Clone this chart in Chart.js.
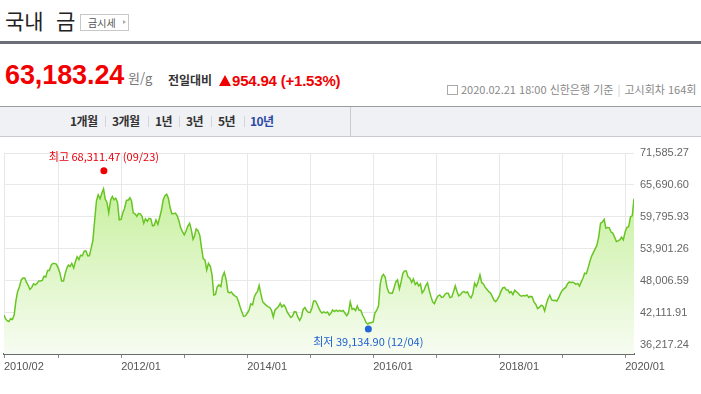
<!DOCTYPE html>
<html lang="ko">
<head>
<meta charset="utf-8">
<script src="https://cdn.jsdelivr.net/npm/chart.js@4.4.1/dist/chart.umd.min.js"></script>
<style>
  body { margin: 0; width: 701px; height: 394px; overflow: hidden; background: #fff; position: relative;
         font-family: 'Noto Sans CJK KR', 'Liberation Sans', sans-serif; }
  .abs { position: absolute; white-space: nowrap; }
  .title { font-size: 21px; line-height: 24px; color: #222; top: 8px; }
  .more { left: 80px; top: 14px; width: 49px; height: 17px; border: 1px solid #c8c8c8; box-sizing: border-box; }
  .more span { position: absolute; left: 7px; top: 2px; font-size: 10px; line-height: 12px; color: #555; }
  .more i { position: absolute; left: 42px; top: 5px; width: 0; height: 0; border-left: 3px solid #aaa;
            border-top: 2.5px solid transparent; border-bottom: 2.5px solid transparent; }
  .rule { left: 0; top: 41px; width: 701px; height: 3px; background: #6b6e75; }
  .price { left: 5px; top: 62px; font: bold 27px/27px 'Liberation Sans', Arial, sans-serif; color: #f20000; letter-spacing: -0.1px; }
  .unit { left: 128px; top: 70px; font-size: 13px; line-height: 16px; color: #777; }
  .cmp { left: 168px; top: 72px; font-size: 12px; line-height: 16px; font-weight: bold; color: #333; }
  .tri { left: 219px; top: 75px; width: 0; height: 0; border-bottom: 11px solid #f20000;
         border-left: 6px solid transparent; border-right: 6px solid transparent; }
  .chg { left: 232px; top: 72px; font: bold 15px/18px 'Liberation Sans', Arial, sans-serif; color: #f20000; letter-spacing: -0.2px; }
  .info { left: 447px; top: 82px; font-size: 11px; line-height: 14px; color: #888; letter-spacing: 0; }
  .info .ico { display: inline-block; width: 9px; height: 8px; border: 1px solid #aaa; margin-right: 3px; vertical-align: -1px; }
  .info .bar { color: #ccc; margin: 0 4px; }
  .tabs { left: 0; top: 106px; width: 701px; height: 31px; background: #f0f1f5; border-top: 1px solid #9a9aa2;
          border-bottom: 1px solid #c9c9cf; box-sizing: border-box; }
  .tabs .div { position: absolute; left: 350px; top: 0; width: 1px; height: 29px; background: #c9c9cf; }
  .tab { position: absolute; top: 6px; font-size: 12px; line-height: 16px; font-weight: bold; color: #333; letter-spacing: -0.6px; }
  .tab.on { color: #2c4aa6; }
  .sep { position: absolute; top: 9px; width: 1px; height: 11px; background: #d3d3d8; }
  #wrap { position: absolute; left: 0; top: 140px; width: 701px; height: 254px; }
</style>
</head>
<body>
<div class="abs title" style="left:5px">국내</div>
<div class="abs title" style="left:56px">금</div>
<div class="abs more"><span>금시세</span><i></i></div>
<div class="abs rule"></div>
<div class="abs price">63,183.24</div>
<div class="abs unit">원/g</div>
<div class="abs cmp">전일대비</div>
<div class="abs tri"></div>
<div class="abs chg">954.94 (+1.53%)</div>
<div class="abs info"><span class="ico"></span>2020.02.21 18:00 신한은행 기준<span class="bar">|</span>고시회차 164회</div>
<div class="abs tabs">
  <span class="tab" style="left:70px">1개월</span><span class="sep" style="left:105px"></span>
  <span class="tab" style="left:112px">3개월</span><span class="sep" style="left:148px"></span>
  <span class="tab" style="left:155px">1년</span><span class="sep" style="left:179px"></span>
  <span class="tab" style="left:186px">3년</span><span class="sep" style="left:211px"></span>
  <span class="tab" style="left:218px">5년</span><span class="sep" style="left:244px"></span>
  <span class="tab on" style="left:250px">10년</span>
  <span class="div"></span>
</div>
<div id="wrap"><canvas id="chart" width="701" height="254"></canvas></div>
<script>
// 10-year gold price (won/g), read on the 1st, 11th and 21st of each month
const seriesStart = '2010/02/21';
const seriesEnd = '2020/02/21';
const price2010 = [41703, 41056, 40650, 40502, 41019, 40871, 41703, 44290, 46046, 46877, 48171, 48541, 48541, 47746, 47192, 46415, 46785, 47432, 47247, 47561, 47986, 47986, 48079, 48855, 48725, 49927, 49927, 50851, 51220, 51220, 51091];
const price2011 = [50389, 49465, 47986, 47986, 49372, 50389, 50888, 50666, 51220, 50389, 51553, 52458, 51922, 52736, 52606, 53475, 53530, 52606, 52606, 53992, 55378, 59314, 62770, 63879, 63140, 64156, 64988, 63047, 62475, 60553, 62863, 63565, 62955, 63232, 62493, 59259];
const price2012 = [59351, 60553, 61384, 62863, 62863, 63325, 62770, 60553, 60368, 59906, 60460, 60368, 59906, 58612, 59444, 58982, 59536, 59444, 58150, 58243, 59259, 58427, 59629, 60922, 62955, 63694, 63971, 63232, 61477, 60368, 60405, 60497, 59998, 59074, 57781, 57134];
const price2013 = [56487, 57134, 58058, 58612, 57411, 55655, 56210, 57596, 57319, 56395, 54085, 52052, 51867, 50019, 51220, 50666, 49095, 45399, 45491, 46877, 47247, 46933, 48818, 49557, 48171, 45953, 45769, 45953, 45491, 45214, 45029, 44198, 43181, 42257, 41426, 41518];
const price2014 = [42017, 42535, 43736, 43551, 45029, 45695, 46009, 47155, 45584, 44105, 43791, 43459, 43237, 43126, 42627, 41333, 42627, 42923, 43237, 43828, 43181, 43551, 43089, 42202, 41703, 41241, 41518, 42313, 42257, 41333, 40687, 41333, 42719, 43089, 42535, 42202];
const price2015 = [42165, 42997, 44290, 44290, 43643, 42904, 42387, 42073, 42257, 42073, 42257, 41703, 42017, 42627, 42350, 42590, 42368, 42553, 42350, 42535, 42073, 41574, 42073, 44105, 42719, 42904, 42535, 43366, 42572, 42572, 41648, 41056, 40299, 40040, 40262, 40262];
const price2016 = [40409, 42073, 42535, 43366, 47432, 48818, 49187, 48633, 46822, 45824, 45713, 45713, 46693, 47801, 48171, 46508, 47801, 49372, 49834, 49834, 48725, 48485, 47691, 48356, 47339, 47709, 47062, 47432, 45769, 46175, 47136, 47617, 46231, 45085, 44105, 43791];
const price2017 = [44660, 45214, 45399, 44937, 45029, 45528, 45713, 45713, 44900, 45029, 46009, 47062, 46046, 45214, 45436, 45916, 46009, 45769, 45953, 45214, 44845, 45676, 47561, 46970, 47894, 49095, 47654, 47432, 46840, 46452, 46009, 45769, 45122, 44475, 44161, 44567];
const price2018 = [45214, 46046, 46693, 46785, 46323, 46323, 45769, 46009, 45454, 46286, 45953, 45713, 45307, 45177, 45307, 45214, 45399, 44937, 45122, 45029, 44105, 43643, 42867, 43089, 43496, 43366, 42442, 43736, 44752, 45344, 44475, 44364, 44420, 44290, 44845, 45584];
const price2019 = [46231, 46508, 46785, 47469, 47801, 47672, 47764, 47617, 47339, 47524, 47025, 47801, 48467, 49409, 49317, 50481, 51682, 52606, 53253, 53900, 54547, 56210, 58649, 58834, 59351, 57725, 57855, 57781, 57004, 56801, 56025, 55249, 55378, 55600, 56062, 55563];
const price2020 = [57041, 57873, 58002, 59813, 59998, 63183];

const xTickLabels = ['2010/02', '2011/01', '2012/01', '2013/01', '2014/01', '2015/01', '2016/01', '2017/01', '2018/01', '2019/01', '2020/01'];
const yTickValues = [36217.24, 42111.91, 48006.59, 53901.26, 59795.93, 65690.60, 71585.27];
const highMark = { date: '2011/09/23', value: 68311.47, label: '최고 68,311.47 (09/23)' };
const lowMark = { date: '2015/12/04', value: 39134.90, label: '최저 39,134.90 (12/04)' };

function dayOf(str) {
  const [y, m, d] = str.split('/').map(Number);
  const [sy, sm, sd] = seriesStart.split('/').map(Number);
  return (Date.UTC(y, m - 1, d || 1) - Date.UTC(sy, sm - 1, sd)) / 86400000;
}

const yearly = [[2010, price2010], [2011, price2011], [2012, price2012], [2013, price2013], [2014, price2014],
  [2015, price2015], [2016, price2016], [2017, price2017], [2018, price2018], [2019, price2019], [2020, price2020]];
const points = [];
yearly.forEach(([yr, vals]) => {
  let n = 0;
  for (let mo = 1; mo <= 12; mo++) {
    for (const dd of [1, 11, 21]) {
      if (n >= vals.length) continue;
      const day = dayOf(yr + '/' + mo + '/' + dd);
      if (day < 0) continue;
      points.push({ x: day, y: vals[n++] });
    }
  }
});

const xTickDays = xTickLabels.map(s => Math.max(0, dayOf(s)));
const fmt = v => v.toLocaleString('en-US', { minimumFractionDigits: 2, maximumFractionDigits: 2 });

const markLabels = {
  id: 'markLabels',
  afterDatasetsDraw(chart) {
    const ctx = chart.ctx;
    ctx.save();
    ctx.font = "11px 'Noto Sans CJK KR', sans-serif";
    ctx.textAlign = 'center';
    ctx.textBaseline = 'middle';
    [[highMark, -13.5, '#e8000b'], [lowMark, 12.5, '#1d5fcf']].forEach(([mk, dy, col]) => {
      const px = chart.scales.x.getPixelForValue(dayOf(mk.date));
      const py = chart.scales.y.getPixelForValue(mk.value);
      ctx.fillStyle = col;
      ctx.fillText(mk.label, px, py + dy);
    });
    ctx.restore();
  }
};

new Chart(document.getElementById('chart'), {
  type: 'line',
  data: {
    datasets: [
      {
        data: points,
        order: 2,
        borderColor: '#68c523',
        borderWidth: 1.5,
        pointRadius: 0,
        tension: 0,
        fill: 'start',
        backgroundColor: (c) => {
          const a = c.chart.chartArea;
          if (!a) return 'rgba(0,0,0,0)';
          const g = c.chart.ctx.createLinearGradient(0, a.top, 0, a.bottom);
          g.addColorStop(0, '#bdee8c');
          g.addColorStop(1, '#f7fcf2');
          return g;
        }
      },
      {
        data: [{ x: dayOf(highMark.date), y: highMark.value }],
        order: 1,
        showLine: false, pointRadius: 3.5, pointBorderWidth: 0,
        pointBackgroundColor: '#f00000', borderColor: '#f00000'
      },
      {
        data: [{ x: dayOf(lowMark.date), y: lowMark.value }],
        order: 0,
        showLine: false, pointRadius: 3.5, pointBorderWidth: 0,
        pointBackgroundColor: '#2266d8', borderColor: '#2266d8'
      }
    ]
  },
  options: {
    responsive: false,
    animation: false,
    layout: { padding: { top: 13, left: 1.7, right: 0, bottom: 0 } },
    plugins: { legend: { display: false }, tooltip: { enabled: false } },
    scales: {
      x: {
        type: 'linear',
        min: 0,
        max: dayOf(seriesEnd),
        afterBuildTicks: (s) => { s.ticks = xTickDays.map(v => ({ value: v })); },
        afterFit: (s) => { s.height = 40; },
        ticks: {
          autoSkip: false, maxRotation: 0, align: 'start', padding: 2,
          color: '#555', font: { family: 'Liberation Sans', size: 11 },
          callback: (v, i) => (i % 2 === 0 ? xTickLabels[i] : '')
        },
        grid: { color: '#e8e8e8', tickColor: '#888', tickLength: 4 },
        border: { color: '#6b6b6b', width: 2 }
      },
      y: {
        position: 'right',
        min: 34500,
        max: 71585.27,
        afterBuildTicks: (s) => { s.ticks = yTickValues.map(v => ({ value: v })); },
        afterFit: (s) => { s.width = 67; },
        ticks: { padding: 6, color: '#666', font: { family: 'Liberation Sans', size: 11 }, callback: (v) => fmt(v) },
        grid: { color: '#e8e8e8', drawTicks: false },
        border: { display: false }
      }
    }
  },
  plugins: [markLabels]
});
</script>
</body>
</html>
